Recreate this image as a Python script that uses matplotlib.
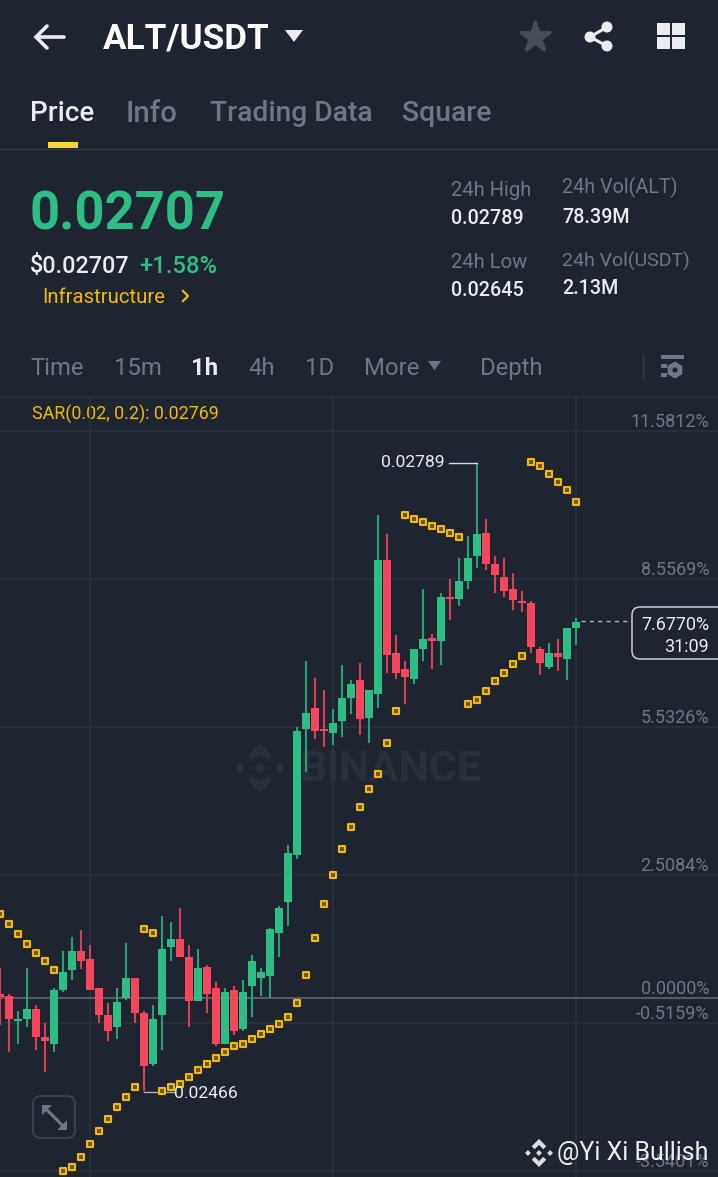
import matplotlib
matplotlib.use("Agg")
import matplotlib.pyplot as plt
from matplotlib.patches import FancyBboxPatch, Polygon, Rectangle, Circle

plt.rcParams['font.family'] = ['Roboto', 'DejaVu Sans']

# ---------- data (percent change relative to chart base) ----------
opens = [0.08,0.04,-0.47,-0.43,-0.22,-0.80,-0.94,0.16,0.57,0.96,0.80,0.20,-0.35,-0.59,0.00,0.41,-0.31,-1.35,-0.35,1.04,1.21,0.84,-0.06,0.63,0.20,-0.94,0.16,-0.63,0.25,0.41,0.45,1.33,1.96,
         2.92,5.50,5.92,5.50,5.41,5.66,6.13,6.50,5.72,6.21,8.95,7.05,6.72,6.52,7.13,7.35,7.29,8.19,8.15,8.52,9.03,9.50,8.87,8.60,8.36,8.11,8.07,7.13,6.76,7.05,6.93,7.56]
closes = [0.02,-0.43,-0.43,-0.22,-0.80,-0.88,0.16,0.53,0.96,0.76,0.16,-0.35,-0.67,-0.08,0.41,-0.31,-1.39,-0.43,1.00,1.21,0.84,-0.06,0.61,0.08,-0.94,0.12,-0.67,0.12,0.76,0.53,1.41,1.84,2.96,
          5.45,5.82,5.45,5.45,5.62,6.13,6.42,5.70,6.29,8.95,7.01,6.64,6.56,7.13,7.33,7.29,8.19,8.15,8.52,8.99,9.48,8.87,8.64,8.31,8.13,8.07,7.17,6.84,7.05,6.97,7.56,7.68]
highs = [0.61,0.08,-0.27,0.61,-0.14,-0.51,0.20,0.96,1.25,1.39,1.08,0.20,-0.10,0.20,1.12,0.41,-0.27,-0.14,1.68,1.55,1.84,1.08,1.00,0.67,0.33,0.20,0.25,0.37,0.88,0.61,1.43,1.88,3.13,
         5.54,6.88,6.54,6.29,5.90,6.80,6.50,6.84,6.29,9.87,9.48,7.42,6.88,7.13,8.36,7.44,8.27,8.56,8.99,9.44,10.94,9.79,9.03,8.99,8.68,8.31,8.11,7.17,7.25,7.33,7.56,7.76]
lows = [-0.55,-1.10,-0.94,-0.59,-1.06,-1.51,-1.10,0.12,0.37,0.59,0.16,-0.51,-0.88,-0.84,-0.04,-0.51,-1.91,-1.39,-1.06,0.76,0.84,-0.59,-0.06,-0.31,-0.98,-0.94,-0.76,-0.67,-0.39,0.04,0.00,0.84,1.47,
        2.84,4.62,5.29,5.13,5.17,5.33,5.80,5.37,5.21,5.92,6.64,6.52,6.01,6.42,6.88,6.72,6.80,7.72,8.01,8.36,8.78,8.74,8.27,8.19,7.93,7.89,7.05,6.60,6.72,6.68,6.50,7.21]
sar = [1.72,1.51,1.31,1.10,0.92,0.76,0.57,-3.53,-3.45,-3.25,-2.98,-2.72,-2.47,-2.23,-2.02,-1.82,1.41,1.33,-1.90,-1.82,-1.76,-1.61,-1.47,-1.35,-1.23,-1.10,-0.98,-0.94,-0.84,-0.74,-0.63,-0.53,-0.39,-0.10,
       0.47,1.23,1.92,2.51,3.04,3.49,3.90,4.27,4.58,5.21,5.86,9.87,9.79,9.72,9.64,9.58,9.50,9.42,6.01,6.09,6.27,6.48,6.64,6.82,6.99,10.95,10.87,10.71,10.54,10.38,10.13]
grid_levels = [11.5812, 8.5569, 5.5326, 2.5084, -0.5159, -3.5401]
grid_labels = ['11.5812%', '8.5569%', '5.5326%', '2.5084%', '-0.5159%', '-3.5401%']
vgrid_idx = [10, 37, 64]

BG = '#1E2530'; GREEN = '#2EBD85'; RED = '#F6465D'; GRID = '#2A303C'
YEL = '#F0B90B'; GRAY = '#6F7785'; WHITE = '#EAECEF'

fig = plt.figure(figsize=(7.18, 11.77), dpi=100, facecolor=BG)

# UI layer in pixel coordinates
ui = fig.add_axes([0, 0, 1, 1], zorder=0)
ui.set_xlim(0, 718); ui.set_ylim(1177, 0); ui.axis('off')

# Chart layer
top_px = 397
ax = fig.add_axes([0, 0, 1, (1177 - top_px) / 1177], zorder=1)
ax.patch.set_alpha(0)
ax.set_xlim(0, 718 / 9)
ax.set_ylim(-3.66, 12.28)
ax.axis('off')

# Front layer
ov = fig.add_axes([0, 0, 1, 1], zorder=2)
ov.set_xlim(0, 718); ov.set_ylim(1177, 0); ov.axis('off'); ov.patch.set_alpha(0)


def T(a, x, y, s, size, color, weight='normal', ha='left', va='center'):
    return a.text(x - 1, y + 1.5, s, fontsize=size, color=color, fontweight=weight, ha=ha, va=va)


def logo(a, cx, cy, r, color, zorder=1):
    def P(pts):
        a.add_patch(Polygon([(cx + px * r, cy + py * r) for px, py in pts], closed=True,
                            fc=color, ec='none', zorder=zorder))
    d = 0.21
    for ox, oy in [(0, 0), (-0.79, 0), (0.79, 0)]:
        P([(ox - d, oy), (ox, oy - d), (ox + d, oy), (ox, oy + d)])
    P([(0, -1), (0.52, -0.48), (0.31, -0.27), (0, -0.58), (-0.31, -0.27), (-0.52, -0.48)])
    P([(0, 1), (0.52, 0.48), (0.31, 0.27), (0, 0.58), (-0.31, 0.27), (-0.52, 0.48)])


# ---------- header ----------
ui.plot([37, 64], [37, 37], color=WHITE, lw=2.6, solid_capstyle='round')
ui.plot([47, 36, 47], [26, 37, 48], color=WHITE, lw=2.6, solid_capstyle='round', solid_joinstyle='miter')
T(ui, 104, 37.5, 'ALT/USDT', 25.2, '#FFFFFF', 'bold')
ui.add_patch(Polygon([(285, 30), (303, 30), (294, 42)], fc=WHITE, ec='none'))
ui.scatter([535], [37], marker='*', s=470, color='#474D57', linewidths=2.5, edgecolors='#474D57')
for (x0, y0) in [(607, 27), (590, 37), (607, 46)]:
    ui.add_patch(Circle((x0, y0), 5.5, fc=WHITE, ec='none'))
ui.plot([607, 590, 607], [27, 37, 46], color=WHITE, lw=2.2)
for x0 in (657, 672):
    for y0 in (23, 37):
        ui.add_patch(Rectangle((x0, y0), 12.5, 12, fc=WHITE, ec='none'))

T(ui, 31, 112, 'Price', 20, WHITE, 'medium')
T(ui, 127, 112, 'Info', 21.2, GRAY, 'medium')
T(ui, 211, 112, 'Trading Data', 20.3, GRAY, 'medium')
T(ui, 403, 112, 'Square', 20.4, GRAY, 'medium')
ui.add_patch(Rectangle((48, 142), 30, 6, fc='#FCD535', ec='none'))
ui.plot([0, 718], [148.5, 148.5], color='#343B47', lw=0.9)

# ---------- price block ----------
T(ui, 31, 213, '0.02707', 37.8, GREEN, 'bold')
T(ui, 31, 265, '$0.02707', 16.8, WHITE, 'medium')
T(ui, 140, 265, '+1.58%', 17.2, GREEN, 'medium')
T(ui, 43, 296, 'Infrastructure', 14.6, YEL)
ui.plot([183, 188, 183], [291, 296, 301], color=YEL, lw=1.6)

T(ui, 452, 189, '24h High', 14.6, GRAY)
T(ui, 452, 217, '0.02789', 14.2, WHITE, 'medium')
T(ui, 452, 261, '24h Low', 14.6, GRAY)
T(ui, 452, 289, '0.02645', 14.2, WHITE, 'medium')
T(ui, 563, 186, '24h Vol(ALT)', 14.2, GRAY)
T(ui, 563, 216, '78.39M', 14.2, WHITE, 'medium')
T(ui, 563, 260, '24h Vol(USDT)', 14.0, GRAY)
T(ui, 563, 287, '2.13M', 14.2, WHITE, 'medium')

# ---------- interval row ----------
for x, s in [(31, 'Time'), (115, '15m'), (249, '4h'), (306, '1D'), (365, 'More'), (481, 'Depth')]:
    T(ui, x, 367, s, 17.2, GRAY)
T(ui, 192, 367, '1h', 17.2, WHITE, 'bold')
ui.add_patch(Polygon([(428, 361), (441, 361), (434.5, 370)], fc=GRAY, ec='none'))
ui.plot([643, 643], [354, 379], color='#343B47', lw=1)
ui.add_patch(Rectangle((661, 355), 23, 3.5, fc=GRAY, ec='none'))
ui.add_patch(Rectangle((661, 364), 6, 3.5, fc=GRAY, ec='none'))
ui.add_patch(Rectangle((661, 373), 6, 3.5, fc=GRAY, ec='none'))
ui.scatter([675], [370], marker='h', s=150, fc=GRAY, ec='none')
ui.scatter([675], [370], marker='o', s=14, fc=BG, ec='none')

# ---------- chart background ----------
ui.plot([0, 718], [397, 397], color=GRID, lw=1.4)
T(ui, 33, 413, 'SAR(0.02, 0.2): 0.02769', 12.9, YEL)
logo(ui, 260, 768, 25, '#2A303B')
T(ui, 300, 768, 'BINANCE', 31, '#2A303B', 'bold')

for lv in grid_levels:
    ax.axhline(lv, color=GRID, lw=1.2, zorder=0)
for vx in vgrid_idx:
    ax.axvline(vx, color=GRID, lw=1.2, zorder=0)
ax.axhline(0, color='#565D69', lw=1.4, zorder=0.5)

# ---------- candles ----------
idx = list(range(len(opens)))
cols = [GREEN if c >= o else RED for o, c in zip(opens, closes)]
wick_cols = ['#27A274' if c >= o else '#D63F54' for o, c in zip(opens, closes)]
ax.vlines(idx, lows, highs, colors=wick_cols, lw=1.5, zorder=2)
ax.bar(idx, [abs(c - o) for o, c in zip(opens, closes)], bottom=[min(o, c) for o, c in zip(opens, closes)],
       width=0.78, color=cols, linewidth=0, zorder=3)
ax.scatter(idx, sar, marker='s', s=17, fc='#6B5510', ec=YEL, linewidths=1.5, zorder=4)

# high / low annotation
hi_i = highs.index(max(highs)); lo_i = lows.index(min(lows))
ax.plot([hi_i - 3.1, hi_i], [max(highs), max(highs)], color='#D5D8DC', lw=1, zorder=5)
ax.text(hi_i - 3.55, max(highs), '0.02789', color=WHITE, fontsize=12.6, ha='right', va='center', zorder=6)
ax.plot([lo_i, lo_i + 3.3], [min(lows) - 0.02, min(lows) - 0.02], color='#AEB3BA', lw=1, zorder=2.5)
ax.text(lo_i + 3.35, min(lows) - 0.04, '0.02466', color=WHITE, fontsize=12.6, ha='left', va='center', zorder=6)

# axis labels (10 px above grid)
pct_per_px = (12.28 + 3.66) / (1177 - top_px)
for lv, lab in zip(grid_levels, grid_labels):
    ax.text(709 / 9, lv + 9 * pct_per_px, lab, color=GRAY, fontsize=13.0, ha='right', va='center', zorder=1)
ax.text(709 / 9, 9 * pct_per_px, '0.0000%', color=GRAY, fontsize=13.0, ha='right', va='center', zorder=1)

# last price
last = closes[-1]
ax.plot([64.5, 70.2], [last + 0.03, last + 0.03], color='#AEB3BA', lw=1, ls=(0, (3, 3)), zorder=2)
ov.add_patch(FancyBboxPatch((640, 615), 90, 36, boxstyle='round,pad=8,rounding_size=8', fc=BG, ec='#C9CDD2', lw=1.1))
T(ov, 710, 623, '7.6770%', 13.0, WHITE, ha='right')
T(ov, 710, 646, '31:09', 13.0, WHITE, ha='right')

# expand icon
ov.add_patch(FancyBboxPatch((39, 1102), 30, 30, boxstyle='round,pad=6,rounding_size=8', fc='none', ec='#3A414D', lw=1.4))
ov.plot([46, 63], [1109, 1126], color=GRAY, lw=2.2)
ov.add_patch(Polygon([(42, 1105), (52, 1105), (42, 1115)], fc=GRAY, ec='none'))
ov.add_patch(Polygon([(67, 1130), (57, 1130), (67, 1120)], fc=GRAY, ec='none'))

# source mark
logo(ov, 539, 1153, 14, '#DDDEE0', zorder=6)
ov.text(557, 1153, '@Yi Xi Bullish', fontsize=18.0, color='#EDEDED', ha='left', va='center', zorder=6)

fig.savefig('out.png', dpi=100, facecolor=BG)
